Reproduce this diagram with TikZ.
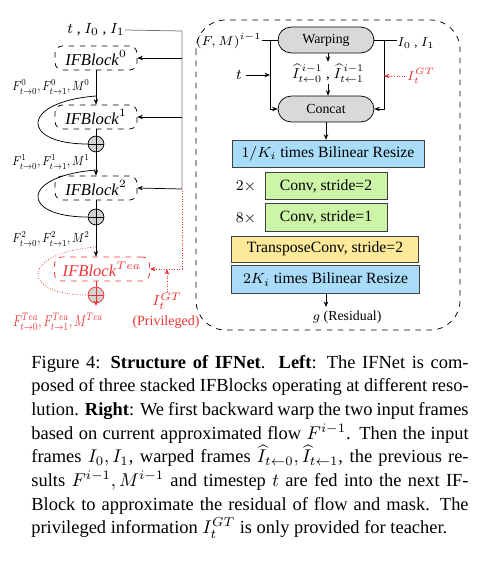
\documentclass[tikz,border=0pt]{standalone}
\usepackage{amsmath}
\usepackage{graphicx}
\usepackage{fontspec}
\setmainfont{Liberation Serif}
\usetikzlibrary{arrows.meta}
\definecolor{boxblue}{HTML}{A8DCF8}
\definecolor{boxgreen}{HTML}{CCF5A8}
\definecolor{boxyellow}{HTML}{FCE99A}
\definecolor{teared}{HTML}{EE3333}
\newlength\pxu \setlength\pxu{0.542pt}
\newcommand{\fitwh}[3]{\resizebox*{#1\pxu}{#2\pxu}{#3}}
\tikzset{
 blockbox/.style={draw,dashed,rounded corners=4pt,minimum width=44.4pt,minimum height=13pt,inner sep=1pt,font=\fontsize{9}{11}\selectfont},
 addop/.style={circle,draw,fill=gray!35,minimum size=8.6pt,inner sep=0pt,
  path picture={\draw (path picture bounding box.north) -- (path picture bounding box.south)
   (path picture bounding box.west) -- (path picture bounding box.east);}},
 pillbox/.style={draw,fill=gray!30,rounded corners=7pt,minimum width=52pt,minimum height=14pt,inner sep=1pt,font=\fontsize{7.5}{9}\selectfont},
 layerbox/.style={draw=black!75,minimum height=15pt,inner sep=1pt,font=\fontsize{8.5}{10}\selectfont},
 teadot/.style={teared,densely dotted},
 lab/.style={inner sep=0pt}
}
\begin{document}
\begin{tikzpicture}[x=0.542pt,y=-0.542pt,>={Stealth[length=3pt,width=2.4pt]}]
 \useasboundingbox (0,0) rectangle (485,564);
 % left: stacked IFBlocks
 \node[inner sep=0pt,font=\fontsize{8.2}{10}\selectfont] (tin) at (96,30) {$t$ , $I_0$ , $I_1$};
 \coordinate (bt) at (182,31); \coordinate (bb) at (182,189);
 \node[blockbox] (blk0) at (96,58) {\textit{IFBlock}$^0$};
 \node[blockbox] (blk1) at (96,117) {\textit{IFBlock}$^1$};
 \node[blockbox] (blk2) at (96,188) {\textit{IFBlock}$^2$};
 \node[blockbox,teared,minimum width=51.5pt] (blkT) at (102,269) {\textit{IFBlock}$^{Tea}$};
 \node[addop] (add1) at (96,144) {};
 \node[addop] (add2) at (96,217) {};
 \node[addop,draw=teared] (addT) at (96,295) {};
 \draw[black!55] (tin.east) -- (bt) -- (bb);
 \draw[->] (bt |- blk0.east) -- (blk0.east);
 \draw[->] (bt |- blk1.east) -- (blk1.east);
 \draw[->] (bb) -- (blk2.east);
 \draw[->] (blk0) -- (blk1);
 \draw[->] (add1) -- (blk2);
 \draw[->] (add2.south) -- (add2.south |- blkT.north);
 \draw (blk1) -- (add1); \draw (blk2) -- (add2);
 \draw[teared] (blkT.south -| addT) -- (addT);
 \node[lab] (f0) at (51,87) {\fitwh{77}{14}{$F^0_{t\rightarrow 0}, F^0_{t\rightarrow 1}, M^0$}};
 \node[lab] (f1) at (51,162) {\fitwh{77}{14}{$F^1_{t\rightarrow 0}, F^1_{t\rightarrow 1}, M^1$}};
 \node[lab] (f2) at (51,239) {\fitwh{77}{14}{$F^2_{t\rightarrow 0}, F^2_{t\rightarrow 1}, M^2$}};
 \coordinate (s1) at (96,96); \coordinate (s2) at (96,170); \coordinate (sT) at (96,247);
 \draw (s1) .. controls (20,102) and (20,144) .. (add1.west);
 \draw (s2) .. controls (20,176) and (20,217) .. (add2.west);
 \draw[teadot] (sT) .. controls (20,253) and (20,295) .. (addT.west);
 \coordinate (outT) at (96,306);
 \draw[teadot,->] (addT) -- (outT);
 \node[lab,teared] (fT) at (58,322) {\fitwh{90}{17}{$F^{Tea}_{t\rightarrow 0}, F^{Tea}_{t\rightarrow 1}, M^{Tea}$}};
 \draw[teadot,->] ([yshift=-1pt]bb) |- (blkT.east);
 \node[inner sep=0pt,teared,font=\fontsize{8}{10}\selectfont] (igt) at (167,301) {$I_t^{GT}$};
 \node[inner sep=0pt,teared,font=\fontsize{7.6}{9}\selectfont] (priv) at (166,322) {(Privileged)};
 \draw[teadot,->] (igt.north) -- (igt.north |- blkT.east);
 % right: inside one IFBlock
 \draw[dashed,rounded corners=16pt] (196,20) rectangle (460,330);
 \node[pillbox] (warp) at (326,40) {Warping};
 \node[pillbox] (concat) at (326,109) {Concat};
 \node[inner sep=0pt,anchor=east,font=\fontsize{7}{9}\selectfont] (fm) at (262,41) {$(F,M)^{i-1}$};
 \node[inner sep=0pt,anchor=west,font=\fontsize{7}{9}\selectfont] (i01) at (397,43) {$I_0$ , $I_1$};
 \coordinate (vl) at (270,40); \coordinate (vr) at (384,40);
 \draw (fm.east |- warp.west) -- (warp.west);
 \draw (warp.east) -- (i01.west |- warp.east);
 \draw[->] (vl) |- (concat.west);
 \draw[->] (vr) |- (concat.east);
 \node[inner sep=0pt,font=\fontsize{8}{10}\selectfont] (tr) at (239,75) {$t$};
 \draw[->] ([xshift=2pt]tr.east) -- (tr.east -| vl);
 \node[lab] (wlab) at (328,73) {\fitwh{72}{18}{$\widehat{I}^{\,i-1}_{t\leftarrow 0}$ , $\widehat{I}^{\,i-1}_{t\leftarrow 1}$}};
 \draw[->] (warp.south -| wlab) -- ([yshift=1pt]wlab.north);
 \draw[->] ([yshift=-1pt]wlab.south) -- (concat.north -| wlab);
 \node[inner sep=0pt,teared,font=\fontsize{7.5}{9}\selectfont] (igtr) at (421,76) {$I_t^{GT}$};
 \draw[teadot,->] ([xshift=-1pt]igtr.west) -- (igtr.west -| vr);
 \node[layerbox,fill=boxblue,minimum width=104pt] (rs1) at (328,154) {$1/K_i$ times Bilinear Resize};
 \node[layerbox,fill=boxgreen,minimum width=66pt] (cv2) at (326,186) {Conv, stride=2};
 \node[layerbox,fill=boxgreen,minimum width=66pt] (cv1) at (326,217.5) {Conv, stride=1};
 \node[layerbox,fill=boxyellow,minimum width=101pt,minimum height=14pt] (tcv) at (325,249) {TransposeConv, stride=2};
 \node[layerbox,fill=boxblue,minimum width=102pt] (rs2) at (325.5,279.5) {$2K_i$ times Bilinear Resize};
 \node[lab,font=\fontsize{8.5}{10}\selectfont] (n2) at (246,187) {$2\times$};
 \node[lab,font=\fontsize{8.5}{10}\selectfont] (n8) at (246,219) {$8\times$};
 \draw[->] (concat) -- (concat |- rs1.north);
 \coordinate (gout) at (326,307);
 \draw[->] (rs2.south -| gout) -- (gout);
 \node[lab,font=\fontsize{7.5}{9}\selectfont] (res) at (347,317) {$g$ (Residual)};
 % caption
 \node[anchor=north west,inner sep=0pt,text width=237pt,align=justify,font=\fontsize{10}{12.8}\selectfont] (cap) at (31,355)
  {Figure 4: \textbf{Structure of IFNet}.\ \ \textbf{Left}: The IFNet is com-\linebreak
   posed of three stacked IFBlocks operating at different reso-\linebreak
   lution. \textbf{Right}: We first backward warp the two input frames\linebreak
   based on current approximated flow $F^{i-1}$. Then the input\linebreak
   frames $I_0, I_1$, warped frames $\widehat{I}_{t\leftarrow 0}, \widehat{I}_{t\leftarrow 1}$, the previous re-\linebreak
   sults $F^{i-1}, M^{i-1}$ and timestep $t$ are fed into the next IF-\linebreak
   Block to approximate the residual of flow and mask. The\linebreak
   privileged information $I_t^{GT}$ is only provided for teacher.};
\end{tikzpicture}
\end{document}
